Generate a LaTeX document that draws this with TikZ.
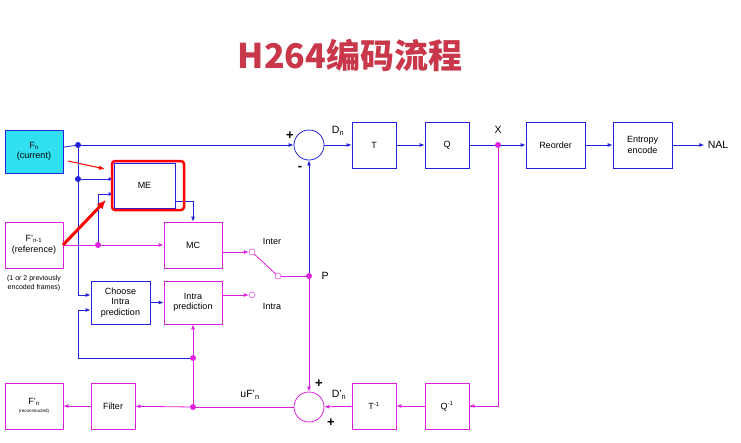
\documentclass[tikz,border=0pt]{standalone}
\usepackage{fontspec}
\setmainfont{Liberation Sans}
\newfontfamily\cjk{Noto Sans CJK SC}
\usetikzlibrary{arrows.meta}
\definecolor{bl}{HTML}{2222DD}
\definecolor{mg}{HTML}{E020E0}
\definecolor{ttl}{HTML}{C8374A}
\definecolor{cy}{HTML}{30E0F0}
\tikzset{
  font={\fontsize{9pt}{10.5}\selectfont},
  blk/.style={draw=#1, line width=0.8pt, minimum width=44pt, minimum height=46pt, align=center, inner sep=1pt},
  bline/.style={bl, line width=0.8pt},
  mline/.style={mg, line width=0.8pt},
  arr/.style={-{Latex[length=5pt,width=4pt]}},
  dot/.style={circle, fill=#1, inner sep=0pt, minimum size=6pt},
  sw/.style={circle, draw=mg, fill=white, inner sep=0pt, minimum size=6pt},
  sum/.style={circle, draw=#1, line width=0.8pt, minimum size=30pt, inner sep=0pt}}

\begin{document}
\begin{tikzpicture}[x=1pt, y=-1pt]
  \useasboundingbox (0,0) rectangle (741,442);
  \node (title) at (350,55) [ttl, font={\cjk\fontsize{34pt}{36}\selectfont\bfseries}] {H264编码流程};
  % boxes
  \node (fn) at (34,151.5) [blk=bl, fill=cy, minimum width=58pt, minimum height=43pt] {F\textsubscript{n}\\(current)};
  \node (me) at (144.5,185.5) [blk=bl, minimum width=61pt, minimum height=45pt] {ME};
  \node (fref) at (34,245) [blk=mg, minimum width=58pt] {F'\textsubscript{n-1}\\(reference)};
  \node (note) at (34,283) [font={\fontsize{7pt}{8.5}\selectfont}, align=center] {(1 or 2 previously\\encoded frames)};
  \node (mc) at (193,245) [blk=mg, minimum width=58pt] {MC};
  \node (ci) at (120.5,302.5) [blk=bl, minimum width=59pt, minimum height=43pt] {Choose\\Intra\\prediction};
  \node (ip) at (193,302.5) [blk=mg, minimum width=58pt, minimum height=43pt] {Intra\\prediction};
  \node (t) at (374,145) [blk=bl] {T};
  \node (q) at (447,145) [blk=bl] {Q};
  \node (ro) at (555.5,145) [blk=bl, minimum width=59pt] {Reorder};
  \node (ent) at (642.5,145) [blk=bl, minimum width=59pt] {Entropy\\encode};
  \node (nal) at (718,145) [font={\fontsize{10.5pt}{12}\selectfont}] {NAL};
  \node (qi) at (447,406) [blk=mg] {Q\textsuperscript{-1}};
  \node (ti) at (374,406) [blk=mg] {T\textsuperscript{-1}};
  \node (flt) at (113,406) [blk=mg] {Filter};
  \node (frec) at (34,406) [blk=mg, minimum width=58pt] {F'\textsubscript{n}\\[-2pt]{\fontsize{4.5pt}{5}\selectfont(reconstructed)}};
  \node (s1) at (309,145) [sum=bl] {};
  \node (s2) at (309,407) [sum=mg] {};
  % junctions
  \node (j1) at (78,145) [dot=bl] {};
  \node (j2) at (78,179) [dot=bl] {};
  \node (j3) at (98,245) [dot=mg] {};
  \node (jx) at (498,145) [dot=mg] {};
  \node (jp) at (309,276) [dot=mg] {};
  \node (ju) at (193,407) [dot=mg] {};
  \node (jl) at (193,358) [dot=mg] {};
  \node (swa) at (252,252) [sw] {};
  \node (swb) at (252,295) [sw] {};
  \node (swc) at (278,276) [sw] {};
  \coordinate (c1) at (78,358);
  % labels
  \node at (290,136) [font={\fontsize{13pt}{13}\bfseries}] {+};
  \node at (300,168) [font={\fontsize{13pt}{13}\bfseries}] {-};
  \node at (319,384) [font={\fontsize{13pt}{13}\bfseries}] {+};
  \node at (331,423) [font={\fontsize{13pt}{13}\bfseries}] {+};
  \node at (338,131) [font={\fontsize{10.5pt}{12}\selectfont}] {D\textsubscript{n}};
  \node at (339,395) [font={\fontsize{10.5pt}{12}\selectfont}] {D'\textsubscript{n}};
  \node at (250,395) [font={\fontsize{10.5pt}{12}\selectfont}] {uF'\textsubscript{n}};
  \node at (498,130) [font={\fontsize{10.5pt}{12}\selectfont}] {X};
  \node at (325,276) [font={\fontsize{10.5pt}{12}\selectfont}] {P};
  \node at (272,241) {Inter};
  \node at (272,306) {Intra};
  % forward path
  \draw[bline] (fn) -- (j1);
  \draw[bline, arr] (j1) -- (s1);
  \draw[bline, arr] (s1) -- (t);
  \draw[bline, arr] (t) -- (q);
  \draw[bline] (q) -- (jx);
  \draw[bline, arr] (jx) -- (ro);
  \draw[bline, arr] (ro) -- (ent);
  \draw[bline, arr] (ent) -- (nal);
  % motion estimation
  \draw[bline] (j1) -- (j2);
  \draw[bline, arr] (j2) -- (j2 -| me.west);
  \draw[bline, arr] (j3) |- ([yshift=-8.5pt]me.west);
  \draw[bline, arr] ([yshift=-16pt]me.east) -| (mc.north);
  \draw[mline] (fref) -- (j3);
  \draw[mline, arr] (j3) -- (mc);
  % intra
  \draw[bline, arr] (j2) |- ([yshift=7.5pt]ci.west);
  \draw[bline, arr] (jl) -- (c1) |- ([yshift=-7.5pt]ci.west);
  \draw[bline, arr] (ci) -- (ip);
  \draw[mline, arr] ([yshift=-7pt]mc.east) -- (swa);
  \draw[mline, arr] ([yshift=7.5pt]ip.east) -- (swb);
  \draw[mline] (swa) -- (swc);
  \draw[mline] (swc) -- (jp);
  \draw[bline, arr] (jp) -- (s1);
  \draw[mline, arr] (jp) -- (s2);
  % reconstruction
  \draw[mline] (jx) |- (qi.east);
  \draw[mline, arr] (jx |- qi.east) -- (qi.east);
  \draw[mline, arr] (qi) -- (ti);
  \draw[mline, arr] (ti) -- (s2);
  \draw[mline] (s2) -- (ju);
  \draw[mline, arr] (ju) -- (flt);
  \draw[mline, arr] (flt) -- (frec);
  \draw[mline] (ju) -- (jl);
  \draw[mline, arr] (jl) -- (ip);
  % highlight
  \draw[red, line width=2.5pt, rounded corners=3pt] (112,161) rectangle (184,210);
  \draw[red, line width=1pt, -{Latex[length=6pt]}] (68,161) -- (105,169);
  \draw[red, line width=3pt, -{Latex[length=9pt,width=8pt]}] (63,245) -- (106,200);
\end{tikzpicture}
\end{document}
